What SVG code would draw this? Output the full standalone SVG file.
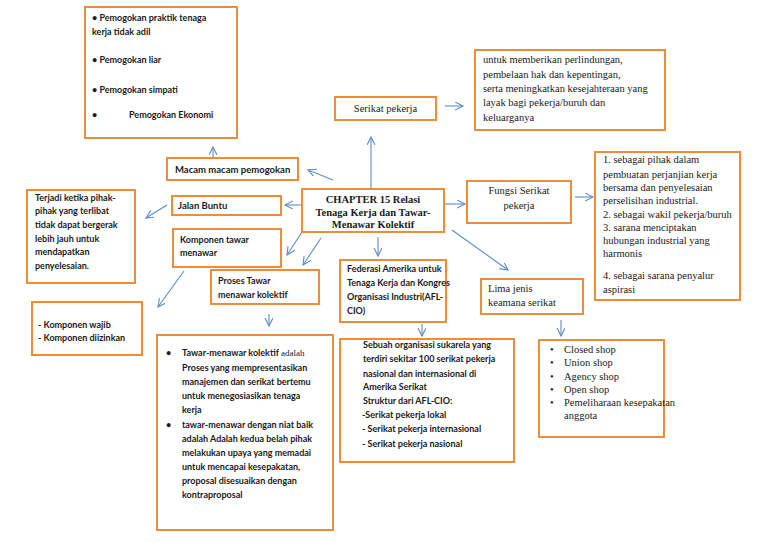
<svg xmlns="http://www.w3.org/2000/svg" width="768" height="543" viewBox="0 0 768 543">
<defs>
<marker id="ah" markerWidth="10" markerHeight="10" refX="8" refY="4" orient="auto" markerUnits="userSpaceOnUse">
<path d="M0,0 L8,4 L0,8" fill="none" stroke="#5B8CC8" stroke-width="1.1"/>
</marker>
</defs>
<style>
.box{fill:#fff;stroke:#EE8C3C;stroke-width:2}
.s{font-family:Lato,"Liberation Sans",sans-serif;font-weight:700;font-size:9px;fill:#1a1a1a}
.m{font-family:Lato,"Liberation Sans",sans-serif;font-weight:700;font-size:9.5px;fill:#1a1a1a}
.r{font-family:"Liberation Serif",serif;font-size:10.5px;fill:#1a1a1a}
.rb{font-family:"Liberation Serif",serif;font-size:10.5px;font-weight:700;fill:#1a1a1a}
.c{stroke:#5B8CC8;stroke-width:1.1;fill:none;marker-end:url(#ah)}
</style>
<rect width="768" height="543" fill="#fff"/>
<g id="connectors">
<line class="c" x1="213" y1="158" x2="213" y2="147"/>
<line class="c" x1="333" y1="180" x2="308" y2="170"/>
<line class="c" x1="371" y1="189" x2="371" y2="137"/>
<line class="c" x1="445" y1="106" x2="463" y2="106"/>
<line class="c" x1="302" y1="205" x2="285" y2="205"/>
<line class="c" x1="167" y1="205" x2="146" y2="218"/>
<line class="c" x1="302" y1="232" x2="287" y2="255"/>
<line class="c" x1="321" y1="238" x2="303" y2="265"/>
<line class="c" x1="184" y1="271" x2="158" y2="307"/>
<line class="c" x1="269" y1="314" x2="269" y2="326"/>
<line class="c" x1="378" y1="237" x2="378" y2="256"/>
<line class="c" x1="422" y1="324" x2="422" y2="336"/>
<line class="c" x1="444" y1="204" x2="465" y2="204"/>
<line class="c" x1="575" y1="197" x2="593" y2="197"/>
<line class="c" x1="452" y1="230" x2="508" y2="270"/>
<line class="c" x1="561" y1="320" x2="561" y2="336"/>
</g>
<g id="n-macam-list">
<rect class="box" x="85" y="7" width="152" height="131"/>
<text class="s" x="92" y="21">• Pemogokan praktik tenaga</text>
<text class="s" x="92" y="35">kerja tidak adil</text>
<text class="s" x="92" y="63">• Pemogokan liar</text>
<text class="s" x="92" y="93">• Pemogokan simpati</text>
<text class="s" x="92" y="118">•</text>
<text class="s" x="129" y="118">Pemogokan Ekonomi</text>
</g>
<g id="n-serikat">
<rect class="box" x="335" y="97" width="101" height="23"/>
<text class="r" x="385.5" y="112" text-anchor="middle">Serikat pekerja</text>
</g>
<g id="n-serikat-def">
<rect class="box" x="475" y="50" width="190" height="80"/>
<text class="r" x="483" y="63">untuk memberikan perlindungan,</text>
<text class="r" x="483" y="78">pembelaan hak dan kepentingan,</text>
<text class="r" x="483" y="92">serta meningkatkan kesejahteraan yang</text>
<text class="r" x="483" y="106">layak bagi pekerja/buruh dan</text>
<text class="r" x="483" y="121">keluarganya</text>
</g>
<g id="n-macam">
<rect class="box" x="167" y="158" width="131" height="22"/>
<text class="m" x="175" y="173">Macam macam pemogokan</text>
</g>
<g id="n-center">
<rect class="box" x="302" y="189" width="142" height="43"/>
<text class="rb" x="373" y="203" text-anchor="middle">CHAPTER 15 Relasi</text>
<text class="rb" x="373" y="216" text-anchor="middle">Tenaga Kerja dan Tawar-</text>
<text class="rb" x="373" y="228" text-anchor="middle">Menawar Kolektif</text>
</g>
<g id="n-jalan">
<rect class="box" x="172" y="196" width="109" height="19"/>
<text class="m" x="178" y="209">Jalan Buntu</text>
</g>
<g id="n-terjadi">
<rect class="box" x="27" y="190" width="108" height="93"/>
<text class="s" x="35" y="201">Terjadi ketika pihak-</text>
<text class="s" x="35" y="214">pihak yang terlibat</text>
<text class="s" x="35" y="228">tidak dapat bergerak</text>
<text class="s" x="35" y="242">lebih jauh untuk</text>
<text class="s" x="35" y="255">mendapatkan</text>
<text class="s" x="35" y="269">penyelesaian.</text>
</g>
<g id="n-komponen">
<rect class="box" x="173" y="229" width="108" height="38"/>
<text class="s" x="180" y="243">Komponen tawar</text>
<text class="s" x="180" y="256">menawar</text>
</g>
<g id="n-proses">
<rect class="box" x="211" y="270" width="108" height="34"/>
<text class="s" x="218" y="284">Proses Tawar</text>
<text class="s" x="218" y="298">menawar kolektif</text>
</g>
<g id="n-komponen-list">
<rect class="box" x="32" y="302" width="110" height="53"/>
<text class="s" x="38" y="328">- Komponen wajib</text>
<text class="s" x="38" y="341">- Komponen diizinkan</text>
</g>
<g id="n-tawar-def">
<rect class="box" x="157" y="335" width="176" height="195"/>
<text class="s" x="166" y="356">•</text>
<text class="s" x="182" y="356">Tawar-menawar kolektif <tspan font-family="Liberation Serif,serif" font-weight="400">adalah</tspan></text>
<text class="s" x="182" y="371">Proses yang mempresentasikan</text>
<text class="s" x="182" y="385">manajemen dan serikat bertemu</text>
<text class="s" x="182" y="399">untuk menegosiasikan tenaga</text>
<text class="s" x="182" y="413">kerja</text>
<text class="s" x="166" y="428">•</text>
<text class="s" x="182" y="428">tawar-menawar dengan niat baik</text>
<text class="s" x="182" y="442">adalah Adalah kedua belah pihak</text>
<text class="s" x="182" y="456">melakukan upaya yang memadai</text>
<text class="s" x="182" y="470">untuk mencapai kesepakatan,</text>
<text class="s" x="182" y="484">proposal disesuaikan dengan</text>
<text class="s" x="182" y="498">kontraproposal</text>
</g>
<g id="n-federasi">
<rect class="box" x="340" y="260" width="106" height="62"/>
<text class="s" x="347" y="272">Federasi Amerika untuk</text>
<text class="s" x="347" y="286">Tenaga Kerja dan Kongres</text>
<text class="s" x="347" y="300">Organisasi Industri(AFL-</text>
<text class="s" x="347" y="314">CIO)</text>
</g>
<g id="n-afl-def">
<rect class="box" x="340" y="339" width="174" height="123"/>
<text class="s" x="363" y="348">Sebuah organisasi sukarela yang</text>
<text class="s" x="363" y="362">terdiri sekitar 100 serikat pekerja</text>
<text class="s" x="363" y="377">nasional dan internasional di</text>
<text class="s" x="363" y="390">Amerika Serikat</text>
<text class="s" x="363" y="404">Struktur dari AFL-CIO:</text>
<text class="s" x="362" y="418">-Serikat pekerja lokal</text>
<text class="s" x="362" y="432">- Serikat pekerja internasional</text>
<text class="s" x="362" y="447">- Serikat pekerja nasional</text>
</g>
<g id="n-fungsi">
<rect class="box" x="467" y="181" width="104" height="42"/>
<text class="r" x="519" y="194" text-anchor="middle">Fungsi Serikat</text>
<text class="r" x="519" y="209" text-anchor="middle">pekerja</text>
</g>
<g id="n-fungsi-def">
<rect class="box" x="595" y="152" width="145" height="148"/>
<text class="r" x="603" y="163">1. sebagai pihak dalam</text>
<text class="r" x="603" y="178">pembuatan perjanjian kerja</text>
<text class="r" x="603" y="191">bersama dan penyelesaian</text>
<text class="r" x="603" y="204">perselisihan industrial.</text>
<text class="r" x="603" y="218">2. sebagai wakil pekerja/buruh</text>
<text class="r" x="603" y="231">3. sarana menciptakan</text>
<text class="r" x="603" y="244">hubungan industrial yang</text>
<text class="r" x="603" y="257">harmonis</text>
<text class="r" x="603" y="279">4. sebagai sarana penyalur</text>
<text class="r" x="603" y="293">aspirasi</text>
</g>
<g id="n-lima">
<rect class="box" x="481" y="279" width="102" height="35"/>
<text class="r" x="488" y="292">Lima jenis</text>
<text class="r" x="488" y="306">keamana serikat</text>
</g>
<g id="n-shop">
<rect class="box" x="539" y="340" width="125" height="97"/>
<text class="r" x="550" y="353">•</text>
<text class="r" x="564" y="353">Closed shop</text>
<text class="r" x="550" y="366">•</text>
<text class="r" x="564" y="366">Union shop</text>
<text class="r" x="550" y="380">•</text>
<text class="r" x="564" y="380">Agency shop</text>
<text class="r" x="550" y="393">•</text>
<text class="r" x="564" y="393">Open shop</text>
<text class="r" x="550" y="406">•</text>
<text class="r" x="564" y="406">Pemeliharaan kesepakatan</text>
<text class="r" x="564" y="419">anggota</text>
</g>
</svg>
